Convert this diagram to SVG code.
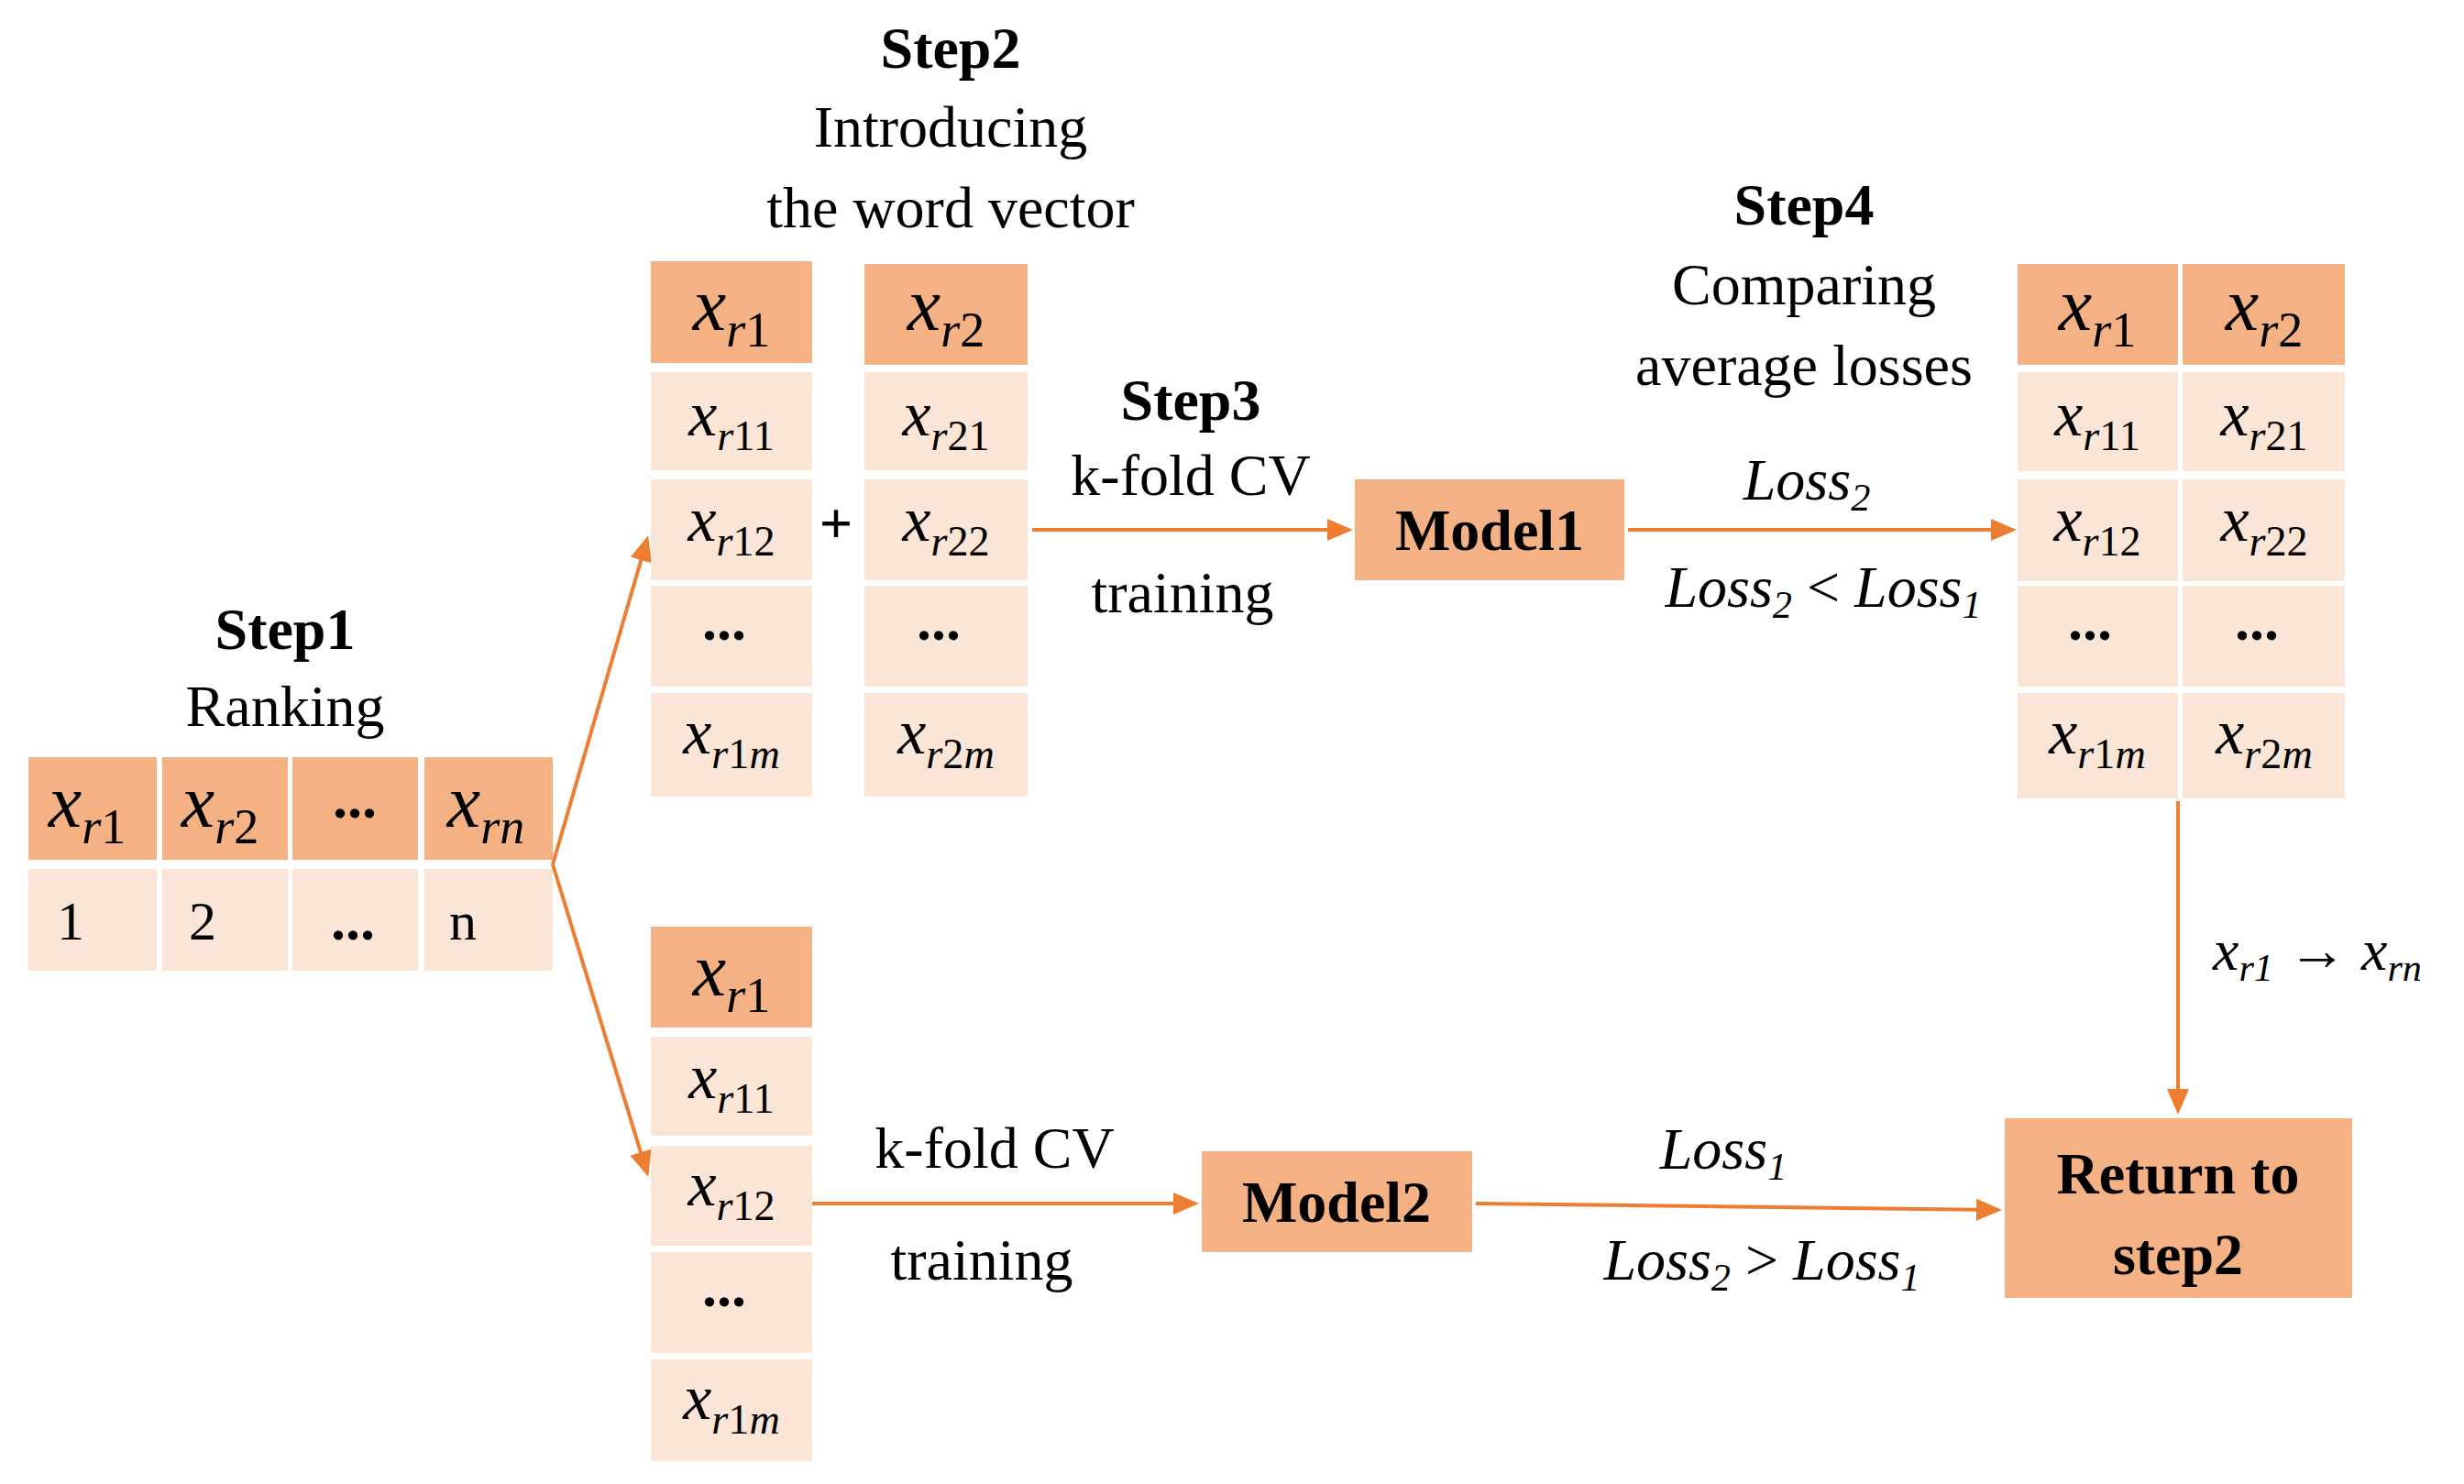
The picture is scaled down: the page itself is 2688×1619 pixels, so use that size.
<svg xmlns="http://www.w3.org/2000/svg" width="2688" height="1619" viewBox="0 0 2688 1619">
<style>
text{font-family:"Liberation Serif","Times New Roman",serif;fill:#000}
.h{fill:#F4B183}.c{fill:#FBE5D6}
.b{font-weight:bold}
.t{font-size:64px;text-anchor:middle}
.xh{font-size:82px;text-anchor:middle}
.xb{font-size:70px;text-anchor:middle}
.i{font-style:italic}
.s{font-size:0.66em}
.ln{stroke:#ED7D31;stroke-width:4;fill:none;marker-end:url(#a)}
</style>
<defs><marker id="a" markerWidth="7" markerHeight="6" refX="6" refY="3" orient="auto" markerUnits="strokeWidth"><path d="M0,0L7,3L0,6z" fill="#ED7D31"/></marker></defs>
<g id="connectors">
<path class="ln" d="M603,943L706,588"/>
<path class="ln" d="M603,943L706,1280"/>
<path class="ln" d="M1126,578H1472"/>
<path class="ln" d="M1776,578H2196"/>
<path class="ln" d="M2376,874V1212"/>
<path class="ln" d="M886,1313H1304"/>
<path class="ln" d="M1610,1313L2180,1320"/>
</g>
<g id="labels">
<text class="t b" x="1037" y="74">Step2</text>
<text class="t" x="1037" y="160">Introducing</text>
<text class="t" x="1037" y="248">the word vector</text>
<text class="t b" x="1299" y="458">Step3</text>
<text class="t" x="1299" y="540">k-fold CV</text>
<text class="t" x="1290" y="668">training</text>
<text class="t b" x="1968" y="245">Step4</text>
<text class="t" x="1968" y="332">Comparing</text>
<text class="t" x="1968" y="420">average losses</text>
<text class="t b" x="311" y="708">Step1</text>
<text class="t" x="311" y="792">Ranking</text>
<text class="t" x="1085" y="1274">k-fold CV</text>
<text class="t" x="1071" y="1396">training</text>
<text class="t i" x="1971" y="545">Loss<tspan class="s" dy="12">2</tspan></text>
<text class="t i" x="1989" y="662">Loss<tspan class="s" dy="12">2</tspan><tspan dy="-12" font-style="normal"> &lt; </tspan>Loss<tspan class="s" dy="12">1</tspan></text>
<text class="t i" x="1880" y="1275">Loss<tspan class="s" dy="12">1</tspan></text>
<text class="t i" x="1922" y="1396">Loss<tspan class="s" dy="12">2</tspan><tspan dy="-12" font-style="normal"> &gt; </tspan>Loss<tspan class="s" dy="12">1</tspan></text>
<text class="t i" x="2528" y="1058">x<tspan class="s" dy="12">r1</tspan><tspan dy="-12" font-style="normal"> → </tspan>x<tspan class="s" dy="12">rn</tspan></text>
<text class="b" x="912" y="592" font-size="64" text-anchor="middle">+</text>
</g>
<g id="step1-table">
<rect class="h" x="31" y="826" width="140" height="112"/><rect class="h" x="177" y="826" width="137" height="112"/><rect class="h" x="319" y="826" width="137" height="112"/><rect class="h" x="463" y="826" width="140" height="112"/>
<rect class="c" x="31" y="948" width="140" height="111"/><rect class="c" x="177" y="948" width="137" height="111"/><rect class="c" x="319" y="948" width="137" height="111"/><rect class="c" x="463" y="948" width="140" height="111"/>
<text class="xh i" x="95" y="902">x<tspan class="s" dy="18">r</tspan><tspan class="s" font-style="normal">1</tspan></text>
<text class="xh i" x="240" y="902">x<tspan class="s" dy="18">r</tspan><tspan class="s" font-style="normal">2</tspan></text>
<text class="t b" x="387" y="892">...</text>
<text class="xh i" x="530" y="902">x<tspan class="s" dy="18">rn</tspan></text>
<text font-size="60" x="62" y="1025">1</text><text font-size="60" x="206" y="1025">2</text>
<text class="t b" x="385" y="1025">...</text><text font-size="60" x="490" y="1025">n</text>
</g>
<g id="top-col1">
<rect class="h" x="710" y="285" width="176" height="111"/>
<rect class="c" x="710" y="406" width="176" height="107"/><rect class="c" x="710" y="523" width="176" height="110"/><rect class="c" x="710" y="639" width="176" height="110"/><rect class="c" x="710" y="756" width="176" height="113"/>
<text class="xh i" x="798" y="360">x<tspan class="s" dy="18">r</tspan><tspan class="s" font-style="normal">1</tspan></text>
<text class="xb i" x="798" y="475">x<tspan class="s" dy="16">r</tspan><tspan class="s" font-style="normal">11</tspan></text>
<text class="xb i" x="798" y="590">x<tspan class="s" dy="16">r</tspan><tspan class="s" font-style="normal">12</tspan></text>
<text class="t b" x="790" y="698">...</text>
<text class="xb i" x="798" y="822">x<tspan class="s" dy="16">r</tspan><tspan class="s" font-style="normal">1</tspan><tspan class="s">m</tspan></text>
</g>
<g id="top-col2">
<rect class="h" x="943" y="288" width="178" height="110"/>
<rect class="c" x="943" y="406" width="178" height="107"/><rect class="c" x="943" y="523" width="178" height="110"/><rect class="c" x="943" y="639" width="178" height="110"/><rect class="c" x="943" y="756" width="178" height="113"/>
<text class="xh i" x="1032" y="360">x<tspan class="s" dy="18">r</tspan><tspan class="s" font-style="normal">2</tspan></text>
<text class="xb i" x="1032" y="475">x<tspan class="s" dy="16">r</tspan><tspan class="s" font-style="normal">21</tspan></text>
<text class="xb i" x="1032" y="590">x<tspan class="s" dy="16">r</tspan><tspan class="s" font-style="normal">22</tspan></text>
<text class="t b" x="1024" y="698">...</text>
<text class="xb i" x="1032" y="822">x<tspan class="s" dy="16">r</tspan><tspan class="s" font-style="normal">2</tspan><tspan class="s">m</tspan></text>
</g>
<g id="model1"><rect class="h" x="1478" y="523" width="294" height="110"/><text class="t b" x="1625" y="600">Model1</text></g>
<g id="right-table">
<rect class="h" x="2201" y="288" width="175" height="110"/><rect class="h" x="2381" y="288" width="177" height="110"/>
<rect class="c" x="2201" y="406" width="175" height="108"/><rect class="c" x="2381" y="406" width="177" height="108"/>
<rect class="c" x="2201" y="523" width="175" height="111"/><rect class="c" x="2381" y="523" width="177" height="111"/>
<rect class="c" x="2201" y="639" width="175" height="110"/><rect class="c" x="2381" y="639" width="177" height="110"/>
<rect class="c" x="2201" y="756" width="175" height="115"/><rect class="c" x="2381" y="756" width="177" height="115"/>
<text class="xh i" x="2288" y="360">x<tspan class="s" dy="18">r</tspan><tspan class="s" font-style="normal">1</tspan></text>
<text class="xh i" x="2470" y="360">x<tspan class="s" dy="18">r</tspan><tspan class="s" font-style="normal">2</tspan></text>
<text class="xb i" x="2288" y="475">x<tspan class="s" dy="16">r</tspan><tspan class="s" font-style="normal">11</tspan></text>
<text class="xb i" x="2470" y="475">x<tspan class="s" dy="16">r</tspan><tspan class="s" font-style="normal">21</tspan></text>
<text class="xb i" x="2288" y="590">x<tspan class="s" dy="16">r</tspan><tspan class="s" font-style="normal">12</tspan></text>
<text class="xb i" x="2470" y="590">x<tspan class="s" dy="16">r</tspan><tspan class="s" font-style="normal">22</tspan></text>
<text class="t b" x="2280" y="698">...</text><text class="t b" x="2462" y="698">...</text>
<text class="xb i" x="2288" y="822">x<tspan class="s" dy="16">r</tspan><tspan class="s" font-style="normal">1</tspan><tspan class="s">m</tspan></text>
<text class="xb i" x="2470" y="822">x<tspan class="s" dy="16">r</tspan><tspan class="s" font-style="normal">2</tspan><tspan class="s">m</tspan></text>
</g>
<g id="bottom-col">
<rect class="h" x="710" y="1011" width="176" height="110"/>
<rect class="c" x="710" y="1131" width="176" height="108"/><rect class="c" x="710" y="1250" width="176" height="109"/><rect class="c" x="710" y="1366" width="176" height="110"/><rect class="c" x="710" y="1483" width="176" height="111"/>
<text class="xh i" x="798" y="1086">x<tspan class="s" dy="18">r</tspan><tspan class="s" font-style="normal">1</tspan></text>
<text class="xb i" x="798" y="1198">x<tspan class="s" dy="16">r</tspan><tspan class="s" font-style="normal">11</tspan></text>
<text class="xb i" x="798" y="1315">x<tspan class="s" dy="16">r</tspan><tspan class="s" font-style="normal">12</tspan></text>
<text class="t b" x="790" y="1425">...</text>
<text class="xb i" x="798" y="1548">x<tspan class="s" dy="16">r</tspan><tspan class="s" font-style="normal">1</tspan><tspan class="s">m</tspan></text>
</g>
<g id="model2"><rect class="h" x="1311" y="1256" width="295" height="110"/><text class="t b" x="1458" y="1333">Model2</text></g>
<g id="return"><rect class="h" x="2187" y="1220" width="379" height="196"/><text class="t b" x="2376" y="1302">Return to</text><text class="t b" x="2376" y="1390">step2</text></g>
</svg>
